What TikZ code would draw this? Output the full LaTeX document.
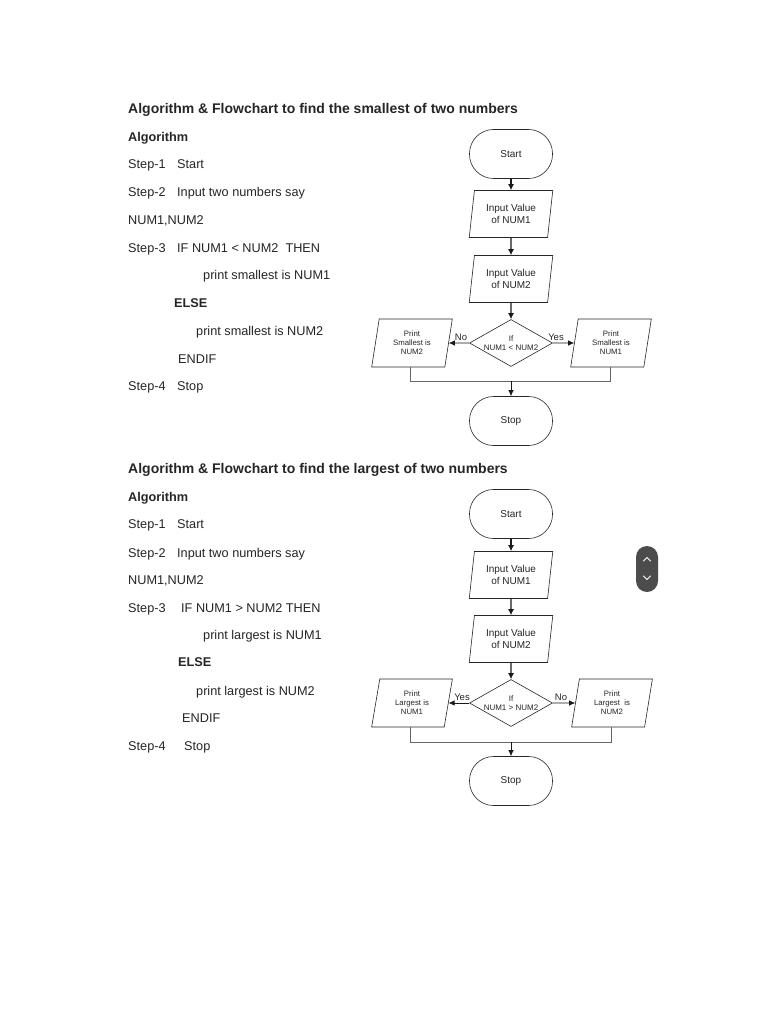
\documentclass[tikz,border=0pt]{standalone}
\usepackage{fontspec}
\setmainfont{Liberation Sans}
\usetikzlibrary{shapes.geometric,arrows.meta}
\begin{document}
\begin{tikzpicture}[x=1pt,y=-1pt,
  txt/.style={anchor=base west, inner sep=0pt, text=black!85, font=\fontsize{12.7}{14}\selectfont},
  btxt/.style={txt, font=\fontsize{12.7}{14}\selectfont\bfseries},
  ttl/.style={txt, font=\fontsize{14}{16}\selectfont\bfseries},
  term/.style={draw=black!85, line width=0.6pt, rounded corners=24pt, minimum width=83pt, minimum height=49pt, text=black!85, font=\fontsize{10}{12}\selectfont},
  io/.style={draw=black!85, line width=0.6pt, trapezium, trapezium left angle=80, trapezium right angle=100, trapezium stretches=true, minimum width=84pt, minimum height=47pt, align=center, inner sep=1pt, text=black!85, font=\fontsize{10}{11.5}\selectfont},
  pio/.style={io, minimum width=81pt, minimum height=48pt, font=\fontsize{7.8}{9}\selectfont},
  dec/.style={draw=black!85, line width=0.6pt, diamond, aspect=1.77, minimum width=83pt, minimum height=47pt, inner sep=0pt, align=center, text=black!85, font=\fontsize{8}{8.5}\selectfont},
  arr/.style={draw=black!90, -{Latex[length=6pt,width=6pt]}, line width=1.3pt},
  sarr/.style={draw=black!90, -{Latex[length=6pt,width=5.5pt]}, line width=0.7pt},
  ln/.style={draw=black!60, line width=0.6pt},
  lbl/.style={inner sep=0pt, text=black!85, font=\fontsize{9.5}{10}\selectfont}
]
\useasboundingbox (0,0) rectangle (768,1024);
\fill[white] (0,0) rectangle (768,1024);

% ---------- top section text ----------
\node[ttl] (t1) at (128,114) {Algorithm \& Flowchart to find the smallest of two numbers};
\node[btxt] (a1) at (128,141.5) {Algorithm};
\node[txt] (s11) at (128,168.5) {Step-1};
\node[txt] (s11b) at (177,168.5) {Start};
\node[txt] (s12) at (128,196.5) {Step-2};
\node[txt] (s12b) at (177,196.5) {Input two numbers say};
\node[txt] (s12c) at (128,224.5) {NUM1,NUM2};
\node[txt] (s13) at (128,252.5) {Step-3};
\node[txt] (s13b) at (177,252.5) {IF NUM1 < NUM2\ \ THEN};
\node[txt] (s13c) at (203,279.5) {print smallest is NUM1};
\node[btxt] (s13d) at (174,307.5) {ELSE};
\node[txt] (s13e) at (196,335.5) {print smallest is NUM2};
\node[txt] (s13f) at (178,363.5) {ENDIF};
\node[txt] (s14) at (128,390.5) {Step-4};
\node[txt] (s14b) at (177,390.5) {Stop};

% ---------- top flowchart ----------
\node[term] (st1) at (511,154) {Start};
\node[io] (in11) at (511,214) {Input Value\\of NUM1};
\node[io] (in12) at (511,279) {Input Value\\of NUM2};
\node[dec] (d1) at (511,343) {If\\NUM1 < NUM2};
\node[pio] (l1) at (412,343) {Print\\Smallest is\\NUM2};
\node[pio] (r1) at (611,343) {Print\\Smallest is\\NUM1};
\coordinate (j1) at (511,381);
\node[term] (sp1) at (511,421) {Stop};
\draw[arr] (st1) -- (in11);
\draw[arr] (in11) -- (in12);
\draw[arr] (in12) -- (d1);
\draw[sarr] (d1.west) -- (l1.east);
\draw[sarr] (d1.east) -- (r1.west);
\node[lbl] (no1) at (461,337) {No};
\node[lbl] (yes1) at (556,337) {Yes};
\draw[ln] (l1.south -| 410,0) -- (410,381) -- (610,381) -- (r1.south -| 610,0);
\draw[sarr] (j1) -- (sp1);

% ---------- bottom section text ----------
\node[ttl] (t2) at (128,473) {Algorithm \& Flowchart to find the largest of two numbers};
\node[btxt] (a2) at (128,501.5) {Algorithm};
\node[txt] (s21) at (128,528.5) {Step-1};
\node[txt] (s21b) at (177,528.5) {Start};
\node[txt] (s22) at (128,557.5) {Step-2};
\node[txt] (s22b) at (177,557.5) {Input two numbers say};
\node[txt] (s22c) at (128,584.5) {NUM1,NUM2};
\node[txt] (s23) at (128,612.5) {Step-3};
\node[txt] (s23b) at (181,612.5) {IF NUM1 > NUM2 THEN};
\node[txt] (s23c) at (203,639.5) {print largest is NUM1};
\node[btxt] (s23d) at (178,666.5) {ELSE};
\node[txt] (s23e) at (196,695.5) {print largest is NUM2};
\node[txt] (s23f) at (182,722.5) {ENDIF};
\node[txt] (s24) at (128,750.5) {Step-4};
\node[txt] (s24b) at (184,750.5) {Stop};

% ---------- bottom flowchart ----------
\node[term] (st2) at (511,514) {Start};
\node[io] (in21) at (511,575) {Input Value\\of NUM1};
\node[io] (in22) at (511,639) {Input Value\\of NUM2};
\node[dec] (d2) at (511,703) {If\\NUM1 > NUM2};
\node[pio] (l2) at (412,703) {Print\\Largest is\\NUM1};
\node[pio] (r2) at (612,703) {Print\\Largest\ \ is\\NUM2};
\coordinate (j2) at (511,742);
\node[term] (sp2) at (511,781) {Stop};
\draw[arr] (st2) -- (in21);
\draw[arr] (in21) -- (in22);
\draw[arr] (in22) -- (d2);
\draw[sarr] (d2.west) -- (l2.east);
\draw[sarr] (d2.east) -- (r2.west);
\node[lbl] (yes2) at (462,697) {Yes};
\node[lbl] (no2) at (561,697) {No};
\draw[ln] (l2.south -| 410,0) -- (410,742) -- (611,742) -- (r2.south -| 611,0);
\draw[sarr] (j2) -- (sp2);

% ---------- scroll widget ----------
\fill[black!70, rounded corners=11pt] (636,546) rectangle (658,592);
\draw[white, line width=0.8pt, line cap=round, line join=round] (643.5,561) -- (647,557.5) -- (650.5,561);
\draw[white, line width=0.8pt, line cap=round, line join=round] (643.5,576) -- (647,579.5) -- (650.5,576);
\end{tikzpicture}
\end{document}
